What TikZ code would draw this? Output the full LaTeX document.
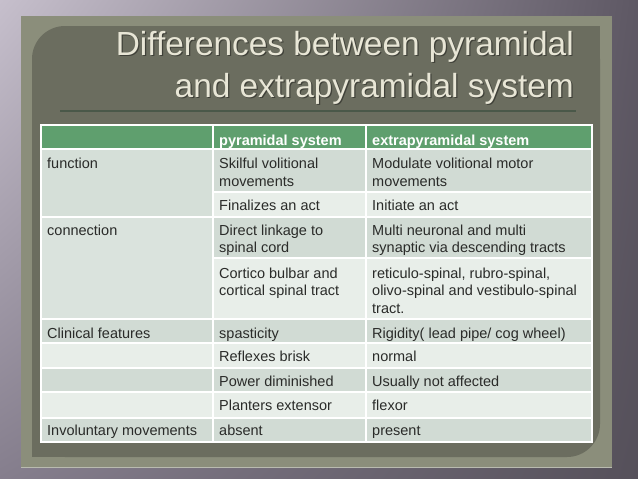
\documentclass[tikz,border=0pt]{standalone}
\usepackage{fontspec}
\usetikzlibrary{shadings}
\setmainfont{Liberation Sans}
\definecolor{bgA}{HTML}{C6BFCC}
\definecolor{bgB}{HTML}{5E5864}
\definecolor{bgC}{HTML}{857E8D}
\definecolor{bgD}{HTML}{55505A}
\definecolor{frameC}{HTML}{8B8E7B}
\definecolor{panelC}{HTML}{6B6D5F}
\definecolor{titleC}{HTML}{E8E6D6}
\definecolor{ruleC}{HTML}{4A5849}
\definecolor{hdrC}{HTML}{5F9F6E}
\definecolor{bandD}{HTML}{D1DBD4}
\definecolor{bandL}{HTML}{E8EEE9}
\definecolor{mergeA}{HTML}{D5DFD8}
\definecolor{mergeB}{HTML}{DAE3DD}
\definecolor{txtC}{HTML}{2A2B29}
\begin{document}
\begin{tikzpicture}[x=1pt,y=-1pt,
  cell/.style={anchor=base west,inner sep=0pt,text=txtC,font=\fontsize{14.5}{17.5}\selectfont},
  hcell/.style={anchor=base west,inner sep=0pt,text=white,font=\fontsize{14.5}{17.5}\selectfont\bfseries},
  ttl/.style={anchor=base east,inner sep=0pt,text=titleC,font=\fontsize{33.4}{40}\selectfont},
  ttlsh/.style={anchor=base east,inner sep=0pt,text=black,opacity=0.4,font=\fontsize{33.4}{40}\selectfont},
  grid/.style={white,line width=1.4pt}]
\useasboundingbox (0,0) rectangle (638,479);
% background
\shade[upper left=bgA, upper right=bgB, lower left=bgC, lower right=bgD] (0,0) rectangle (638,479);
% outer frame
\fill[frameC] (21,16) rectangle (612,467);
\draw[line width=1pt, color=frameC!60!white] (21,467) -- (612,467);
% inner panel
\fill[panelC, rounded corners=33pt] (32,26) rectangle (600,457);
\fill[panelC] (560,26) rectangle (600,66);
\fill[panelC] (32,417) rectangle (72,457);
% title
\node[ttlsh] (t1s) at (575.2,56.2) {Differences between pyramidal};
\node[ttlsh] (t2s) at (575.2,98.2) {and extrapyramidal system};
\node[ttl] (t1) at (574,55) {Differences between pyramidal};
\node[ttl] (t2) at (574,97) {and extrapyramidal system};
\draw[ruleC, line width=1.3pt] (60,111) -- (576,111);
% table cells
\fill[hdrC] (41,125) rectangle (592,149);
% col1 merged + bands
\fill[mergeA] (41,149) rectangle (213,217);
\fill[mergeB] (41,217) rectangle (213,319);
\fill[bandD] (213,149) rectangle (592,192);
\fill[bandL] (213,192) rectangle (592,217);
\fill[bandD] (213,217) rectangle (592,258);
\fill[bandL] (213,258) rectangle (592,319);
\fill[bandD] (41,319) rectangle (592,343);
\fill[bandL] (41,343) rectangle (592,368);
\fill[bandD] (41,368) rectangle (592,392);
\fill[bandL] (41,392) rectangle (592,418);
\fill[bandD] (41,418) rectangle (592,442);
% grid lines
\draw[grid] (41,125) rectangle (592,442);
\draw[grid] (213,125) -- (213,442);
\draw[grid] (366,125) -- (366,442);
\draw[grid] (41,149) -- (592,149);
\draw[grid] (213,192) -- (592,192);
\draw[grid] (41,217) -- (592,217);
\draw[grid] (213,258) -- (592,258);
\draw[grid] (41,319) -- (592,319);
\draw[grid] (41,343) -- (592,343);
\draw[grid] (41,368) -- (592,368);
\draw[grid] (41,392) -- (592,392);
\draw[grid] (41,418) -- (592,418);
% header text
\node[hcell] (h2) at (219,145) {pyramidal system};
\node[hcell] (h3) at (372,145) {extrapyramidal system};
% row 1
\node[cell] (a1) at (47,168) {function};
\node[cell] (b1) at (219,168) {Skilful volitional};
\node[cell] (b1b) at (219,186) {movements};
\node[cell] (c1) at (372,168) {Modulate volitional motor};
\node[cell] (c1b) at (372,186) {movements};
% row 2
\node[cell] (b2) at (219,210) {Finalizes an act};
\node[cell] (c2) at (372,210) {Initiate an act};
% row 3
\node[cell] (a3) at (47,235) {connection};
\node[cell] (b3) at (219,235) {Direct linkage to};
\node[cell] (b3b) at (219,252.5) {spinal cord};
\node[cell] (c3) at (372,235) {Multi neuronal and multi};
\node[cell] (c3b) at (372,252.5) {synaptic via descending tracts};
% row 4
\node[cell] (b4) at (219,278) {Cortico bulbar and};
\node[cell] (b4b) at (219,295.5) {cortical spinal tract};
\node[cell] (c4) at (372,278) {reticulo-spinal, rubro-spinal,};
\node[cell] (c4b) at (372,295.5) {olivo-spinal and vestibulo-spinal};
\node[cell] (c4c) at (372,313) {tract.};
% row 5
\node[cell] (a5) at (47,338) {Clinical features};
\node[cell] (b5) at (219,338) {spasticity};
\node[cell] (c5) at (372,338) {Rigidity( lead pipe/ cog wheel)};
% row 6
\node[cell] (b6) at (219,361) {Reflexes brisk};
\node[cell] (c6) at (372,361) {normal};
% row 7
\node[cell] (b7) at (219,386) {Power diminished};
\node[cell] (c7) at (372,386) {Usually not affected};
% row 8
\node[cell] (b8) at (219,410) {Planters extensor};
\node[cell] (c8) at (372,410) {flexor};
% row 9
\node[cell] (a9) at (47,435) {Involuntary movements};
\node[cell] (b9) at (219,435) {absent};
\node[cell] (c9) at (372,435) {present};
\end{tikzpicture}
\end{document}
